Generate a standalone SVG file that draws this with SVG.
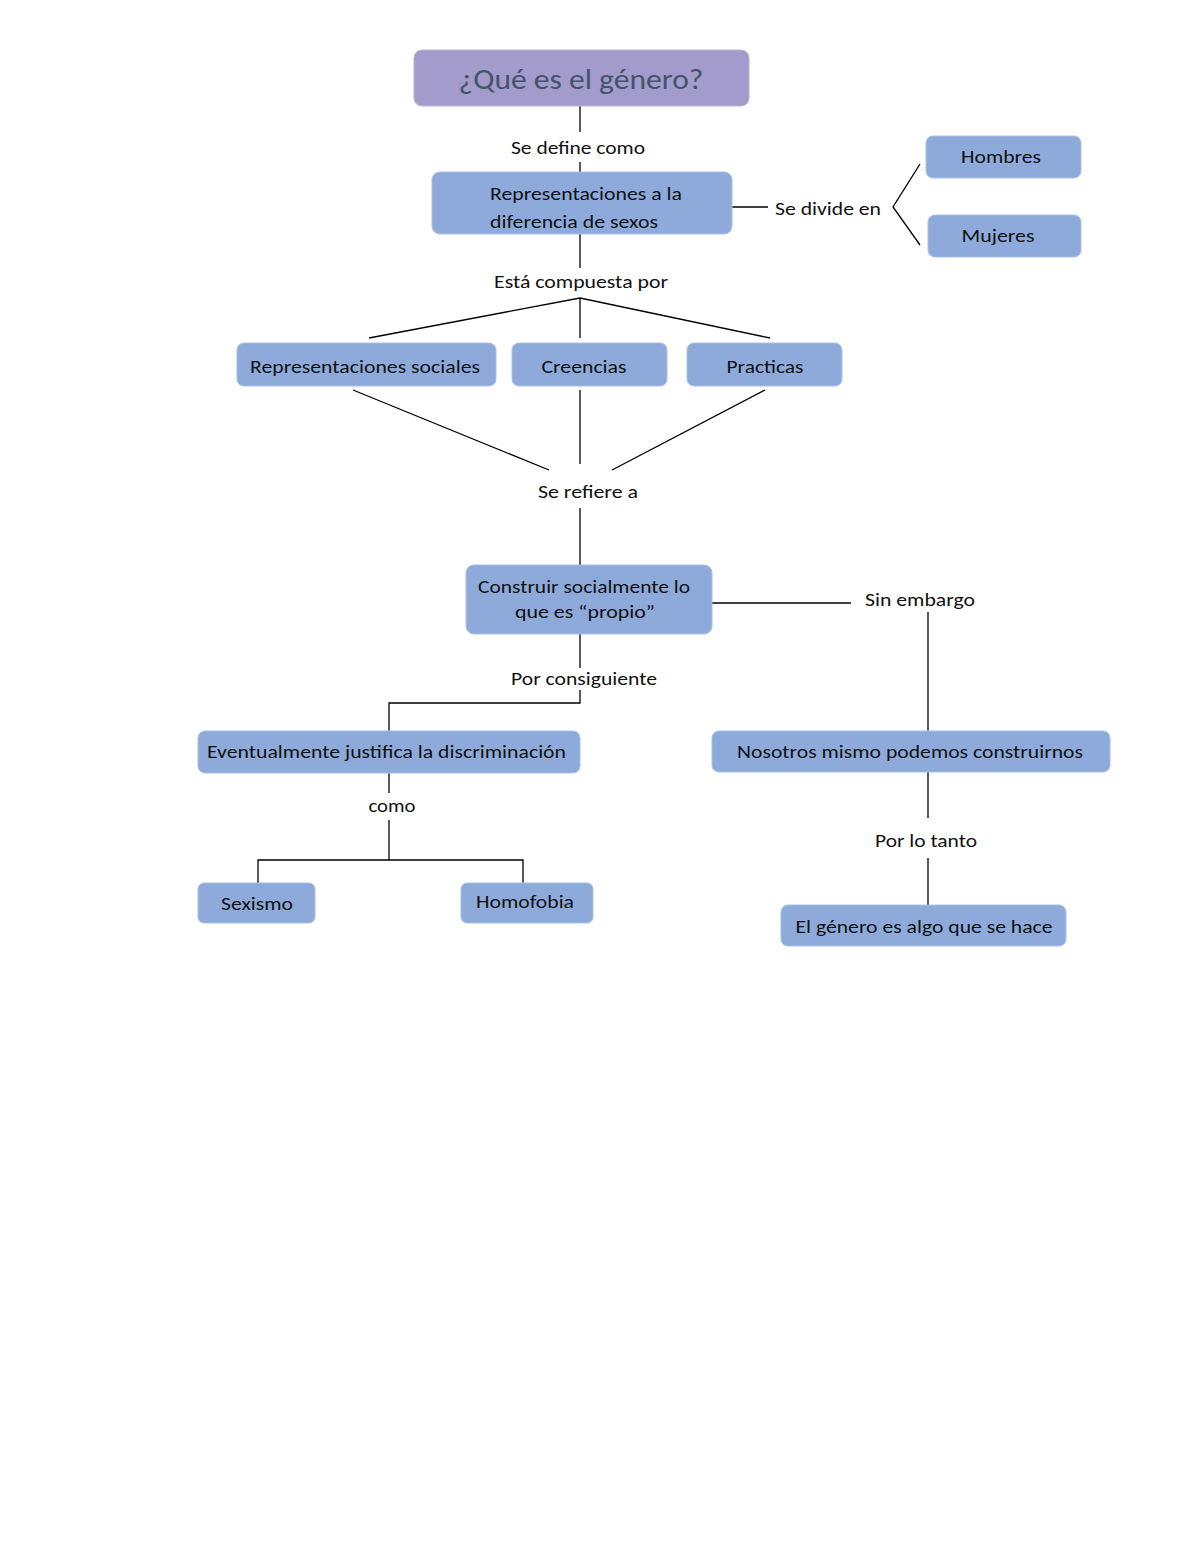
<svg xmlns="http://www.w3.org/2000/svg" width="1200" height="1553" viewBox="0 0 1200 1553">
<style>
.bg{fill:#ffffff}
.box{fill:#8eaadb;stroke:#a9bfe6;stroke-width:1}
.title{fill:#a29bcc;stroke:#b7b1d8;stroke-width:1}
text{font-family:Carlito,Lato,"Open Sans",sans-serif;fill:#111111;font-size:18px}
.t{text-anchor:middle}
.tt{font-size:28px;fill:#44546a;text-anchor:middle}
.ln{stroke:#000000;stroke-width:1.3;fill:none}
</style>
<rect class="bg" x="0" y="0" width="1200" height="1553"/>
<g id="connectors">
<line class="ln" x1="580" y1="106" x2="580" y2="132"/>
<line class="ln" x1="580" y1="162" x2="580" y2="172"/>
<line class="ln" x1="732" y1="207" x2="768" y2="207"/>
<polyline class="ln" points="920,164 893,207 920,245"/>
<line class="ln" x1="580" y1="234" x2="580" y2="268"/>
<line class="ln" x1="580" y1="298" x2="369" y2="338"/>
<line class="ln" x1="580" y1="298" x2="580" y2="338"/>
<line class="ln" x1="580" y1="298" x2="770" y2="338"/>
<line class="ln" x1="353" y1="390" x2="549" y2="470"/>
<line class="ln" x1="580" y1="390" x2="580" y2="464"/>
<line class="ln" x1="765" y1="390" x2="612" y2="470"/>
<line class="ln" x1="580" y1="508" x2="580" y2="565"/>
<line class="ln" x1="712" y1="603" x2="851" y2="603"/>
<line class="ln" x1="928" y1="612" x2="928" y2="731"/>
<line class="ln" x1="580" y1="634" x2="580" y2="668"/>
<polyline class="ln" points="580,690 580,703 389,703 389,731"/>
<line class="ln" x1="389" y1="773" x2="389" y2="793"/>
<line class="ln" x1="389" y1="820" x2="389" y2="860"/>
<polyline class="ln" points="258,883 258,860 523,860 523,883"/>
<line class="ln" x1="928" y1="772" x2="928" y2="818"/>
<line class="ln" x1="928" y1="858" x2="928" y2="905"/>
</g>
<g id="labels">
<text class="t" x="578" y="154" textLength="134" lengthAdjust="spacingAndGlyphs">Se define como</text>
<text x="775" y="215" textLength="106" lengthAdjust="spacingAndGlyphs">Se divide en</text>
<text class="t" x="581" y="288" textLength="174" lengthAdjust="spacingAndGlyphs">Está compuesta por</text>
<text class="t" x="588" y="498" textLength="100" lengthAdjust="spacingAndGlyphs">Se refiere a</text>
<text x="865" y="606" textLength="110" lengthAdjust="spacingAndGlyphs">Sin embargo</text>
<text class="t" x="584" y="685" textLength="146" lengthAdjust="spacingAndGlyphs">Por consiguiente</text>
<text class="t" x="392" y="812" textLength="47" lengthAdjust="spacingAndGlyphs">como</text>
<text class="t" x="926" y="847" textLength="102" lengthAdjust="spacingAndGlyphs">Por lo tanto</text>
</g>
<g id="n-title">
<rect class="title" x="414" y="50" width="335" height="56" rx="8"/>
<text class="tt" x="581" y="89" textLength="245" lengthAdjust="spacingAndGlyphs">¿Qué es el género?</text>
</g>
<g id="n-representaciones">
<rect class="box" x="432" y="172" width="300" height="62" rx="8"/>
<text x="490" y="200" textLength="192" lengthAdjust="spacingAndGlyphs">Representaciones a la</text>
<text x="490" y="228" textLength="168" lengthAdjust="spacingAndGlyphs">diferencia de sexos</text>
</g>
<g id="n-hombres">
<rect class="box" x="926" y="136" width="155" height="42" rx="7"/>
<text class="t" x="1001" y="163" textLength="80" lengthAdjust="spacingAndGlyphs">Hombres</text>
</g>
<g id="n-mujeres">
<rect class="box" x="928" y="215" width="153" height="42" rx="7"/>
<text class="t" x="998" y="242" textLength="73" lengthAdjust="spacingAndGlyphs">Mujeres</text>
</g>
<g id="n-rep-sociales">
<rect class="box" x="237" y="343" width="259" height="43" rx="7"/>
<text class="t" x="365" y="373" textLength="230" lengthAdjust="spacingAndGlyphs">Representaciones sociales</text>
</g>
<g id="n-creencias">
<rect class="box" x="512" y="343" width="155" height="43" rx="7"/>
<text class="t" x="584" y="373" textLength="85" lengthAdjust="spacingAndGlyphs">Creencias</text>
</g>
<g id="n-practicas">
<rect class="box" x="687" y="343" width="155" height="43" rx="7"/>
<text class="t" x="765" y="373" textLength="77" lengthAdjust="spacingAndGlyphs">Practicas</text>
</g>
<g id="n-construir">
<rect class="box" x="466" y="565" width="246" height="69" rx="8"/>
<text class="t" x="584" y="593" textLength="212" lengthAdjust="spacingAndGlyphs">Construir socialmente lo</text>
<text class="t" x="585" y="618" textLength="140" lengthAdjust="spacingAndGlyphs">que es “propio”</text>
</g>
<g id="n-eventualmente">
<rect class="box" x="198" y="731" width="382" height="42" rx="7"/>
<text x="207" y="758" textLength="359" lengthAdjust="spacingAndGlyphs">Eventualmente justifica la discriminación</text>
</g>
<g id="n-nosotros">
<rect class="box" x="712" y="731" width="398" height="41" rx="7"/>
<text class="t" x="910" y="758" textLength="346" lengthAdjust="spacingAndGlyphs">Nosotros mismo podemos construirnos</text>
</g>
<g id="n-sexismo">
<rect class="box" x="198" y="883" width="117" height="40" rx="6"/>
<text class="t" x="257" y="910" textLength="72" lengthAdjust="spacingAndGlyphs">Sexismo</text>
</g>
<g id="n-homofobia">
<rect class="box" x="461" y="883" width="132" height="40" rx="6"/>
<text class="t" x="525" y="908" textLength="98" lengthAdjust="spacingAndGlyphs">Homofobia</text>
</g>
<g id="n-genero-hace">
<rect class="box" x="781" y="905" width="285" height="41" rx="7"/>
<text class="t" x="924" y="933" textLength="257" lengthAdjust="spacingAndGlyphs">El género es algo que se hace</text>
</g>
</svg>
